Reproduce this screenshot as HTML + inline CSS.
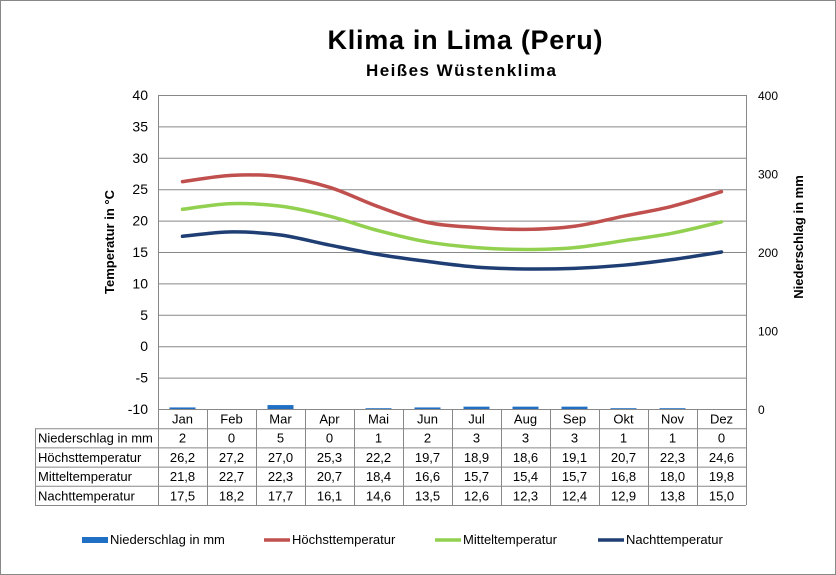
<!DOCTYPE html>
<html><head><meta charset="utf-8"><style>
body{margin:0;background:#fff}
svg{display:block;font-family:"Liberation Sans",sans-serif}
</style></head><body>
<svg id="s" width="836" height="575" viewBox="0 0 836 575" xmlns="http://www.w3.org/2000/svg">
<rect x="0.5" y="0.5" width="835" height="574" fill="#fff" stroke="#888"/>
<text x="465" y="49" font-size="27" font-weight="bold" text-anchor="middle" textLength="275">Klima in Lima (Peru)</text>
<text x="461" y="76" font-size="17" font-weight="bold" text-anchor="middle" textLength="190">Heißes Wüstenklima</text>
<g id="grid" stroke="#888" stroke-width="1"></g>
<g id="lab" font-size="13"></g>
<text transform="translate(114,242) rotate(-90)" font-size="13" font-weight="bold" text-anchor="middle">Temperatur in °C</text>
<text transform="translate(803,237) rotate(-90)" font-size="13" font-weight="bold" text-anchor="middle">Niederschlag in mm</text>
<g id="tbl" font-size="13"></g>
<g id="ser" fill="none" stroke-width="3.5" stroke-linecap="round"></g>
<g font-size="13">
<rect x="82" y="537" width="26" height="6" fill="#1f6fc5"/><text x="110" y="544">Niederschlag in mm</text>
<line x1="264" y1="540" x2="290" y2="540" stroke="#c0504d" stroke-width="3.5"/><text x="292" y="544">Höchsttemperatur</text>
<line x1="435" y1="540" x2="461" y2="540" stroke="#92d050" stroke-width="3.5"/><text x="463" y="544">Mitteltemperatur</text>
<line x1="598" y1="540" x2="624" y2="540" stroke="#1f3f74" stroke-width="3.5"/><text x="626" y="544">Nachttemperatur</text>
</g>
</svg>
<script>
const NS="http://www.w3.org/2000/svg";
function el(p,t,a,txt){const e=document.createElementNS(NS,t);for(const k in a)e.setAttribute(k,a[k]);if(txt!==undefined)e.textContent=txt;document.getElementById(p).appendChild(e);return e;}
const L=158,R=746,T=95,B=409;
for(let i=0;i<=10;i++){const y=T+i*(B-T)/10;el('grid','line',{x1:L,x2:R,y1:y+.5,y2:y+.5});el('lab','text',{x:148,y:y+5,'text-anchor':'end','font-size':14},String(40-5*i));}
el('grid','line',{x1:L+.5,x2:L+.5,y1:T,y2:B});el('grid','line',{x1:R+.5,x2:R+.5,y1:T,y2:B});
[400,300,200,100,0].forEach((v,i)=>el('lab','text',{x:758,y:T+i*(B-T)/4+5,'font-size':12},String(v)));
const M=["Jan","Feb","Mar","Apr","Mai","Jun","Jul","Aug","Sep","Okt","Nov","Dez"];
const rows=[["Niederschlag in mm",["2","0","5","0","1","2","3","3","3","1","1","0"]],
["Höchsttemperatur",["26,2","27,2","27,0","25,3","22,2","19,7","18,9","18,6","19,1","20,7","22,3","24,6"]],
["Mitteltemperatur",["21,8","22,7","22,3","20,7","18,4","16,6","15,7","15,4","15,7","16,8","18,0","19,8"]],
["Nachttemperatur",["17,5","18,2","17,7","16,1","14,6","13,5","12,6","12,3","12,4","12,9","13,8","15,0"]]];
const cw=(R-L)/12,rh=19.2;
for(let r=0;r<=4;r++){const y=B+rh*(r+1)+.5;el('tbl','line',{x1:35,x2:R,y1:y,y2:y,stroke:'#888'});}
for(let c=0;c<=12;c++){const x=L+c*cw+.5;el('tbl','line',{x1:x,x2:x,y1:B,y2:B+5*rh,stroke:'#888'});}
el('tbl','line',{x1:35.5,x2:35.5,y1:B+rh,y2:B+5*rh,stroke:'#888'});
M.forEach((m,i)=>el('tbl','text',{x:L+cw*(i+.5),y:B+14.5,'text-anchor':'middle'},m));
rows.forEach((r,ri)=>{const y=B+rh*(ri+1)+14.5;el('tbl','text',{x:38,y:y},r[0]);r[1].forEach((v,i)=>el('tbl','text',{x:L+cw*(i+.5),y:y,'text-anchor':'middle'},v));});
rows[0][1].forEach((v,i)=>{const h=parseFloat(v)*(B-T)/400;if(h>0)el('ser','rect',{x:L+cw*(i+.5)-13,y:B-h,width:26,height:h,fill:'#1f6fc5',stroke:'none'});});
function path(vals){const p=vals.map((v,i)=>[L+cw*(i+.5),B-(parseFloat(v.replace(',','.'))+10)*(B-T)/50]);
let d="M"+p[0];for(let i=0;i<p.length-1;i++){const a=p[i-1]||p[i],b=p[i],c=p[i+1],e=p[i+2]||c;
d+=" C"+[b[0]+(c[0]-a[0])/6,b[1]+(c[1]-a[1])/6]+" "+[c[0]-(e[0]-b[0])/6,c[1]-(e[1]-b[1])/6]+" "+c;}return d;}
[["#c0504d",1],["#92d050",2],["#1f3f74",3]].forEach(([c,i])=>el('ser','path',{d:path(rows[i][1]),stroke:c}));
</script>
</body></html>
